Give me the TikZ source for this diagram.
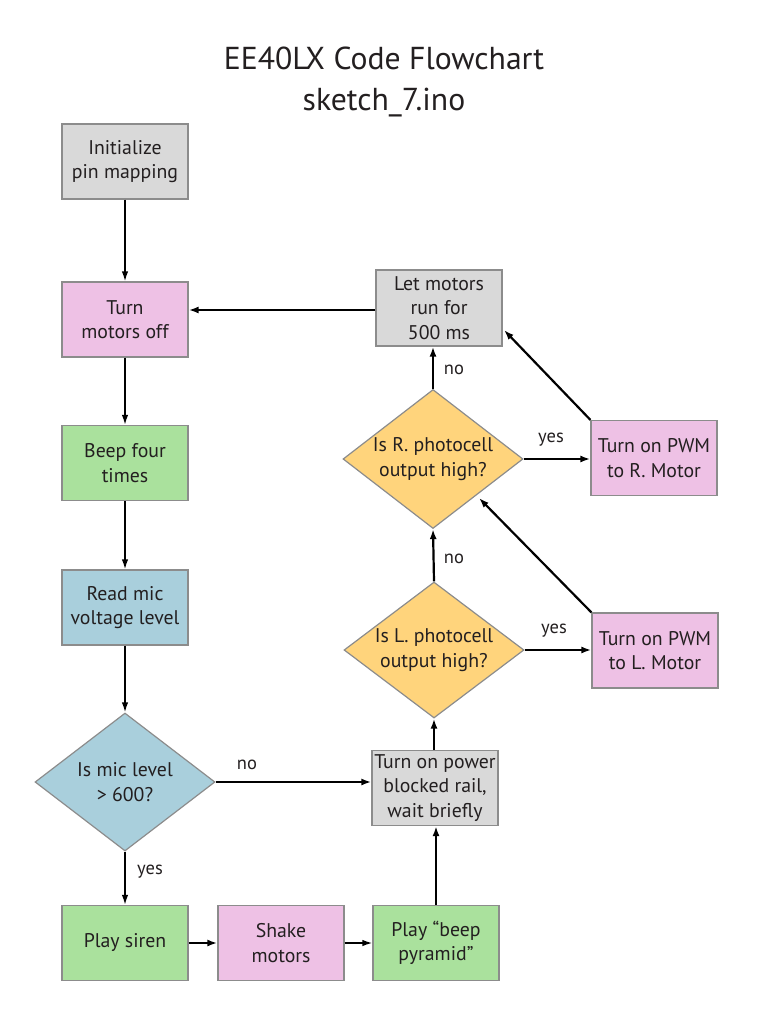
\documentclass[tikz,border=0pt]{standalone}
\usepackage{fontspec}
\setmainfont{PT Sans}
\usetikzlibrary{shapes.geometric,arrows.meta}
\definecolor{grayfill}{HTML}{D9D9D9}
\definecolor{pinkfill}{HTML}{EEC1E5}
\definecolor{greenfill}{HTML}{AAE19D}
\definecolor{bluefill}{HTML}{A9CFDC}
\definecolor{orangefill}{HTML}{FFD47C}
\definecolor{edgegray}{HTML}{8C8C8C}
\definecolor{ink}{HTML}{231F20}
\tikzset{
  box/.style={draw=edgegray, line width=1.2pt, minimum width=126pt, minimum height=75pt, inner sep=0pt, align=center, font=\fontsize{19.8}{24.5}\selectfont, text=ink},
  dia/.style={diamond, draw=edgegray, line width=1.2pt, minimum width=180pt, minimum height=138pt, inner sep=0pt},
  dtext/.style={align=center, font=\fontsize{19.8}{24.5}\selectfont, text=ink},
  arr/.style={draw=black, line width=2.2pt, -{Latex[length=10pt,width=7pt]}},
  arrthin/.style={draw=black, line width=1.6pt, -{Latex[length=10pt,width=6.5pt]}},
  lbl/.style={font=\fontsize{18.5}{20}\selectfont, text=ink, inner sep=0pt}
}
\begin{document}
\begin{tikzpicture}[x=1pt,y=-1pt]
\useasboundingbox (0,0) rectangle (768,1024);
\node[font=\fontsize{31.7}{41}\selectfont, text=ink, align=center] (title) at (384,82) {EE40LX Code Flowchart\\sketch\_7.ino};

\node[box, fill=grayfill] (init) at (125,161.5) {Initialize\\pin mapping};
\node[box, fill=pinkfill] (off) at (125,319.5) {Turn\\motors off};
\node[box, fill=greenfill] (beep) at (125,463) {Beep four\\times};
\node[box, fill=bluefill] (read) at (125,607.5) {Read mic\\voltage level};
\node[dia, fill=bluefill, label={[dtext]center:Is mic level\\> 600?}] (mic) at (125,782) {};
\node[box, fill=greenfill] (siren) at (125,943) {Play siren};
\node[box, fill=pinkfill] (shake) at (281,943) {Shake\\motors};
\node[box, fill=greenfill] (pyr) at (436,943) {Play “beep\\pyramid”};
\node[box, fill=grayfill] (power) at (435,788) {Turn on power\\blocked rail,\\wait briefly};
\node[dia, fill=orangefill, minimum height=136pt, label={[dtext]center:Is L. photocell\\output high?}] (ldia) at (434,650) {};
\node[dia, fill=orangefill, minimum height=139pt, label={[dtext]center:Is R. photocell\\output high?}] (rdia) at (433,459) {};
\node[box, fill=grayfill, minimum height=76pt] (run) at (439,308) {Let motors\\run for\\500 ms};
\node[box, fill=pinkfill] (pwmr) at (654,458) {Turn on PWM\\to R. Motor};
\node[box, fill=pinkfill] (pwml) at (655,650.5) {Turn on PWM\\to L. Motor};

\draw[arrthin] (init) -- (off);
\draw[arrthin] (off) -- (beep);
\draw[arrthin] (beep) -- (read);
\draw[arrthin] (read) -- (mic);
\draw[arrthin] (mic) -- (siren);
\draw[arr] (mic.east) -- (power.west |- mic.east);
\draw[arr] (siren) -- (shake);
\draw[arrthin] (shake) -- (pyr);
\draw[arr] (pyr.north) -- (pyr.north |- power.south);
\draw[arr] (power.north -| ldia.south) -- (ldia.south);
\draw[arr] (ldia.north) -- (rdia.south);
\draw[arr] (ldia.east) -- (pwml.west |- ldia.east);
\draw[arr] (rdia.east) -- (pwmr.west |- rdia.east);
\draw[arr] (rdia.north) -- (run.south -| rdia.north);
\draw[arr] (run.west |- 0,310) -- (off.east |- 0,310);
\coordinate (rdiaedge) at (479,498);
\coordinate (runedge) at (504,330);
\draw[arr] (pwml.north west) -- (rdiaedge);
\draw[arr] (pwmr.north west) -- (runedge);

\node[lbl] (l1) at (454,370) {no};
\node[lbl] (l2) at (551,440) {yes};
\node[lbl] (l3) at (454,559) {no};
\node[lbl] (l4) at (554,631) {yes};
\node[lbl] (l5) at (247,765) {no};
\node[lbl] (l6) at (150,872) {yes};
\end{tikzpicture}
\end{document}
